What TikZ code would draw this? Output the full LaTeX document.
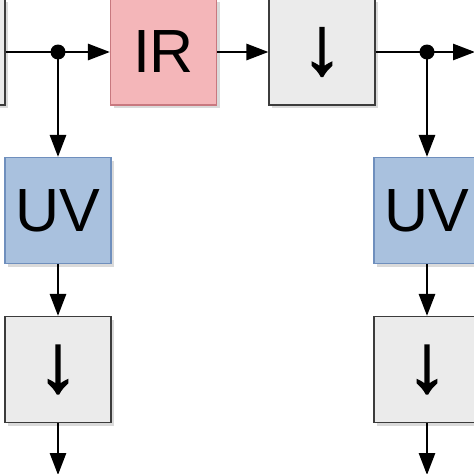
\documentclass[tikz,border=0pt]{standalone}
\usepackage{fontspec}
\setmainfont{Liberation Sans}
\newfontfamily\arrowfont[FakeBold=2]{Liberation Sans}
\usetikzlibrary{arrows.meta,shadows}
\definecolor{irfill}{HTML}{F4B6B9}
\definecolor{irdraw}{HTML}{C8787F}
\definecolor{uvfill}{HTML}{A9C1DE}
\definecolor{uvdraw}{HTML}{6F8FBD}
\definecolor{gfill}{HTML}{EBEBEB}
\definecolor{gdraw}{HTML}{3C3C3C}
\definecolor{shad}{HTML}{DADADA}
\tikzset{
  blk/.style={minimum width=106pt, minimum height=106pt, inner sep=0pt, line width=1.1pt,
    font=\fontsize{61}{61}\selectfont,
    drop shadow={shadow xshift=3pt, shadow yshift=-3pt, fill=shad, opacity=1}},
  irbox/.style={blk, fill=irfill, draw=irdraw},
  uvbox/.style={blk, fill=uvfill, draw=uvdraw},
  gbox/.style={blk, fill=gfill, draw=gdraw, font=\arrowfont\fontsize{82}{82}\selectfont},
  conn/.style={line width=2.8pt, -{Triangle[length=22pt,width=16pt]}},
  plain/.style={line width=2.8pt},
  jdot/.style={circle, fill=black, minimum size=15pt, inner sep=0pt}
}
\begin{document}
\begin{tikzpicture}[x=1pt,y=-1pt]
\useasboundingbox (0,0) rectangle (474,474);
\clip (0,0) rectangle (474,474);
\node[gbox] (L) at (-48,52) {};
\node[irbox] (IR) at (163.5,52) {IR};
\node[gbox] (G1) at (322,52) {\raisebox{-4pt}{↓}};
\node[uvbox] (UV1) at (58,210.5) {UV};
\node[gbox] (G2) at (58,369.5) {\raisebox{-4pt}{↓}};
\node[uvbox] (UV2) at (427,210.5) {UV};
\node[gbox] (G3) at (427,369.5) {\raisebox{-4pt}{↓}};
\node[jdot] (d1) at (58,52) {};
\node[jdot] (d2) at (427,52) {};
\coordinate (e1) at (58,475);
\coordinate (e2) at (427,475);
\coordinate (e3) at (475,52);
\draw[plain] (L.east) -- (d1.center);
\draw[conn] (d1.center) -- (IR.west);
\draw[conn] (d1.center) -- (UV1.north);
\draw[conn] (UV1.south) -- (G2.north);
\draw[conn] (G2.south) -- (e1);
\draw[conn] (IR.east) -- (G1.west);
\draw[plain] (G1.east) -- (d2.center);
\draw[conn] (d2.center) -- (e3);
\draw[conn] (d2.center) -- (UV2.north);
\draw[conn] (UV2.south) -- (G3.north);
\draw[conn] (G3.south) -- (e2);
\end{tikzpicture}
\end{document}
